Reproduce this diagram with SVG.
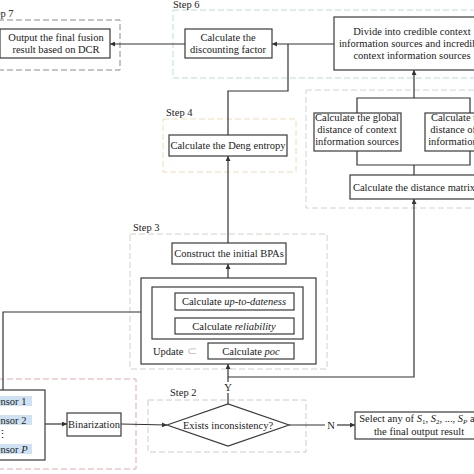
<svg xmlns="http://www.w3.org/2000/svg" width="474" height="474" viewBox="0 0 474 474">
<style>
text{font-family:"Liberation Serif","Times New Roman",serif;font-size:10.5px;fill:#1a1a1a}
.c{text-anchor:middle}
.box{fill:#fff;stroke:#3a3a3a;stroke-width:1.2}
.ln{fill:none;stroke:#333;stroke-width:1.2}
.step{fill:none;stroke-width:1;stroke-dasharray:6 3}
.hl{fill:#cfe2f3}
</style>
<defs>
<marker id="ah" viewBox="0 0 6 6" refX="6" refY="3" markerWidth="5" markerHeight="5" orient="auto" markerUnits="userSpaceOnUse"><path d="M0,0L6,3L0,6z" fill="#333"/></marker>
</defs>
<rect width="474" height="474" fill="#fff"/>

<g id="steps">
<rect class="step" x="-20" y="20" width="140" height="50" stroke="#8a8a8a"/>
<text x="-13" y="17">Step 7</text>
<rect class="step" x="173" y="10" width="320" height="68" stroke="#bcdcdf"/>
<text x="173" y="8">Step 6</text>
<rect class="step" x="306" y="90" width="190" height="118" stroke="#d2d2d2"/>
<rect class="step" x="163" y="119" width="133" height="53" stroke="#f0dcb8"/>
<text x="166" y="116">Step 4</text>
<rect class="step" x="130" y="234" width="197" height="135" stroke="#d2d2c6"/>
<text x="133" y="231">Step 3</text>
<rect class="step" x="148" y="400" width="158" height="52" stroke="#cccccc"/>
<text x="170" y="396">Step 2</text>
<rect class="step" x="-20" y="379" width="156" height="90" stroke="#e3aaaa"/>
</g>

<g id="connectors">
<line class="ln" x1="334" y1="44" x2="272" y2="44" marker-end="url(#ah)"/>
<line class="ln" x1="185" y1="44" x2="110" y2="44" marker-end="url(#ah)"/>
<polyline class="ln" points="228,135 228,91 288,91 288,44"/>
<line class="ln" x1="228" y1="243" x2="228" y2="156" marker-end="url(#ah)"/>
<line class="ln" x1="228" y1="278" x2="228" y2="264" marker-end="url(#ah)"/>
<line class="ln" x1="228" y1="404" x2="228" y2="364" marker-end="url(#ah)"/>
<polyline class="ln" points="228,377 414,377 414,199" marker-end="url(#ah)"/>
<line class="ln" x1="414" y1="175" x2="414" y2="165"/>
<polyline class="ln" points="357,151 357,165 470,165 470,151"/>
<polyline class="ln" points="357,113 357,98 470,98 470,113"/>
<line class="ln" x1="414" y1="98" x2="414" y2="70" marker-end="url(#ah)"/>
<polyline class="ln" points="3,390 3,312 152,312" marker-end="url(#ah)"/>
<line class="ln" x1="45" y1="424" x2="67" y2="424" marker-end="url(#ah)"/>
<line class="ln" x1="121" y1="424" x2="167" y2="425" marker-end="url(#ah)"/>
<line class="ln" x1="289" y1="425" x2="325" y2="425"/>
<line class="ln" x1="337" y1="425" x2="355" y2="425" marker-end="url(#ah)"/>
<rect x="223" y="382" width="10" height="11" fill="#fff"/>
<text class="c" x="228" y="391">Y</text>
<text class="c" x="331" y="429">N</text>
</g>

<g id="output">
<rect class="box" x="0" y="29" width="110" height="29"/>
<text class="c" x="56" y="41">Output the final fusion</text>
<text class="c" x="56" y="53">result based on DCR</text>
</g>
<g id="discounting">
<rect class="box" x="185" y="29" width="87" height="29"/>
<text class="c" x="228" y="41">Calculate the</text>
<text class="c" x="228" y="53">discounting factor</text>
</g>
<g id="divide">
<rect class="box" x="334" y="17" width="160" height="53"/>
<text class="c" x="412" y="35">Divide into credible context</text>
<text class="c" x="412" y="47">information sources and incredible</text>
<text class="c" x="412" y="59">context information sources</text>
</g>
<g id="global">
<rect class="box" x="314" y="113" width="87" height="38"/>
<text class="c" x="357" y="121">Calculate the global</text>
<text class="c" x="357" y="133">distance of context</text>
<text class="c" x="357" y="145">information sources</text>
</g>
<g id="local">
<rect class="box" x="425" y="113" width="90" height="38"/>
<text class="c" x="470" y="121">Calculate the local</text>
<text class="c" x="470" y="133">distance of context</text>
<text class="c" x="470" y="145">information sources</text>
</g>
<g id="matrix">
<rect class="box" x="350" y="175" width="130" height="24"/>
<text class="c" x="414" y="191">Calculate the  distance matrix</text>
</g>
<g id="deng">
<rect class="box" x="169" y="135" width="118" height="21"/>
<text class="c" x="228" y="149">Calculate the Deng entropy</text>
</g>
<g id="construct">
<rect class="box" x="172" y="243" width="114" height="21"/>
<text class="c" x="229" y="257">Construct the initial BPAs</text>
</g>
<g id="bpa-group">
<rect class="box" x="141" y="278" width="175" height="86"/>
<rect class="box" x="152" y="287" width="151" height="52"/>
<rect class="box" x="175" y="293" width="119" height="17"/>
<text class="c" x="234" y="305">Calculate <tspan font-style="italic">up-to-dateness</tspan></text>
<rect class="box" x="175" y="318" width="119" height="16"/>
<text class="c" x="234" y="330">Calculate <tspan font-style="italic">reliability</tspan></text>
<text x="153" y="355">Update</text>
<text x="187" y="355" style="fill:#bdbdbd;font-size:12px">⊂</text>
<rect class="box" x="208" y="343" width="86" height="16"/>
<text class="c" x="251" y="355">Calculate <tspan font-style="italic">poc</tspan></text>
</g>
<g id="sensors">
<rect class="box" x="-30" y="390" width="75" height="70"/>
<rect class="hl" x="-12" y="396" width="44" height="10"/>
<rect class="hl" x="-12" y="415" width="44" height="10"/>
<rect class="hl" x="-12" y="444" width="44" height="10"/>
<text x="-10" y="405">Sensor 1</text>
<text x="-10" y="424">Sensor 2</text>
<text x="-3" y="438">⋮</text>
<text x="-10" y="453">Sensor <tspan font-style="italic">P</tspan></text>
</g>
<g id="binarization">
<rect class="box" x="67" y="413" width="54" height="23"/>
<text class="c" x="94" y="428">Binarization</text>
</g>
<g id="decision">
<polygon class="box" points="167,425 228,404 289,425 228,446"/>
<text class="c" x="228" y="429">Exists inconsistency?</text>
</g>
<g id="select">
<rect class="box" x="355" y="412" width="130" height="27"/>
<text class="c" x="419" y="422">Select any of <tspan font-style="italic">S</tspan><tspan font-size="7" dy="1.5">1</tspan><tspan dy="-1.5">, </tspan><tspan font-style="italic">S</tspan><tspan font-size="7" dy="1.5">2</tspan><tspan dy="-1.5">, ..., </tspan><tspan font-style="italic">S</tspan><tspan font-size="7" font-style="italic" dy="1.5">P</tspan><tspan dy="-1.5"> as</tspan></text>
<text class="c" x="419" y="435">the final output result</text>
</g>
</svg>
